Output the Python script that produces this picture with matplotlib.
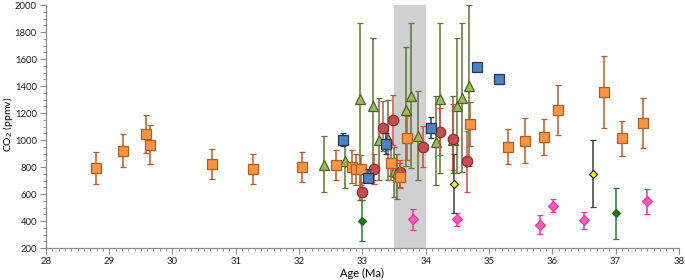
import matplotlib
matplotlib.use("Agg")
import matplotlib.pyplot as plt
from matplotlib.ticker import MultipleLocator

plt.rcParams["font.family"] = ["Lato", "DejaVu Sans"]

# orange squares
or_age = [28.79, 29.22, 29.58, 29.65, 30.63, 31.28, 32.04, 32.59, 32.84, 32.90, 32.98,
          33.46, 33.59, 33.70, 34.70, 35.30, 35.57, 35.87, 36.09, 36.82, 37.10, 37.43]
or_val = [790, 918, 1046, 967, 826, 783, 798, 813, 798, 783, 783,
          828, 728, 1015, 1119, 948, 995, 1020, 1220, 1358, 1012, 1126]
or_hi = [915, 1044, 1186, 1110, 937, 899, 911, 928, 926, 899, 891,
         951, 828, 1180, 1284, 1080, 1161, 1156, 1405, 1623, 1139, 1314]
or_lo = [673, 800, 907, 822, 713, 672, 691, 702, 679, 670, 667,
         704, 642, 850, 958, 822, 830, 887, 1035, 1092, 882, 941]

# blue squares
bl_age = [32.70, 33.09, 33.37, 34.09, 34.81, 35.16]
bl_val = [1001, 720, 972, 1090, 1540, 1451]
bl_hi = [1055, 785, 1051, 1169, 1560, 1480]
bl_lo = [959, 693, 898, 1016, 1520, 1420]

# red circles
rd_age = [32.99, 33.18, 33.33, 33.48, 33.60, 33.96, 34.22, 34.43, 34.65]
rd_val = [619, 782, 1090, 1145, 765, 950, 1058, 1007, 842]
rd_hi = [686, 898, 1290, 1331, 853, 1101, 1236, 1270, 1066]
rd_lo = [558, 674, 920, 960, 656, 804, 886, 780, 617]

# green triangles
gr_age = [32.40, 32.72, 32.96, 33.17, 33.27, 33.41, 33.50, 33.54, 33.69, 33.77,
          33.88, 34.16, 34.22, 34.43, 34.50, 34.58, 34.69]
gr_val = [819, 844, 1305, 1252, 1002, 1007, 772, 765, 1222, 1324,
          1031, 985, 1305, 1001, 1252, 1312, 1400]
gr_hi = [1029, 1000, 1865, 1755, 1309, 1296, 950, 900, 1686, 1867,
         1366, 1326, 1867, 1326, 1755, 1868, 2000]
gr_lo = [617, 644, 557, 704, 704, 704, 582, 560, 805, 792,
         704, 666, 755, 755, 755, 762, 805]

# pink diamonds
pk_age = [33.80, 34.50, 35.80, 36.01, 36.50, 37.50]
pk_val = [417, 417, 372, 509, 409, 545]
pk_hi = [491, 461, 446, 560, 468, 637]
pk_lo = [335, 365, 301, 464, 345, 454]

# yellow diamonds
ye_age = [34.45, 36.65]
ye_val = [678, 750]
ye_hi = [899, 1001]
ye_lo = [458, 502]

# dark green diamonds
dg_age = [33.00, 37.00]
dg_val = [404, 458]
dg_hi = [557, 648]
dg_lo = [251, 266]

band = (33.5, 34.0)

fig = plt.figure(figsize=(6.85, 2.80), dpi=100)
ax = fig.add_axes([0.067, 0.114, 0.924, 0.868])

ax.axvspan(band[0], band[1], color="#d0d0d0", zorder=0, lw=0)


def series(age, val, lo, hi, marker, ms, face, edge, ecol, z):
    yerr = [[v - l for v, l in zip(val, lo)], [h - v for v, h in zip(val, hi)]]
    ax.errorbar(age, val, yerr=yerr, fmt=marker, ms=ms, mfc=face, mec=edge, mew=0.9,
                ecolor=ecol, elinewidth=1.1, capsize=2.5, capthick=1.0, zorder=z)


series(gr_age, gr_val, gr_lo, gr_hi, "^", 7, "#9bbb59", "#4f6228", "#5f7537", 3)
series(rd_age, rd_val, rd_lo, rd_hi, "o", 7.5, "#c0504d", "#8c2e2c", "#d24a4a", 4)
series(or_age, or_val, or_lo, or_hi, "s", 7.5, "#f79646", "#b65d1c", "#b35e2e", 5)
series(bl_age, bl_val, bl_lo, bl_hi, "s", 7.5, "#4f81bd", "#1f3a60", "#1f3a60", 6)
series(pk_age, pk_val, pk_lo, pk_hi, "D", 5, "#f25cc0", "#e0409e", "#f0389e", 6)
series(ye_age, ye_val, ye_lo, ye_hi, "D", 4.5, "#ffff00", "#202020", "#404040", 6)
series(dg_age, dg_val, dg_lo, dg_hi, "D", 4.5, "#1e7a1e", "#1e6a1e", "#2f7a2f", 6)

ax.set_xlim(28, 38)
ax.set_ylim(200, 2000)
ax.xaxis.set_major_locator(MultipleLocator(1))
ax.xaxis.set_minor_locator(MultipleLocator(0.1))
ax.yaxis.set_major_locator(MultipleLocator(200))
ax.yaxis.set_minor_locator(MultipleLocator(50))

for s in ["top", "right"]:
    ax.spines[s].set_visible(False)
for s in ["left", "bottom"]:
    ax.spines[s].set_color("#8c8c8c")
    ax.spines[s].set_linewidth(0.9)

ax.tick_params(which="major", length=4, color="#8c8c8c", labelsize=6.8, labelcolor="#202020", pad=2.5)
ax.tick_params(which="minor", length=2.5, color="#8c8c8c")

ax.set_xlabel("Age (Ma)", fontsize=8, labelpad=1)
fig.text(0.012, 0.555, "CO$_2$ (ppmv)", rotation=90, ha="center", va="center", fontsize=7.5)

fig.savefig("out.png", dpi=100)
